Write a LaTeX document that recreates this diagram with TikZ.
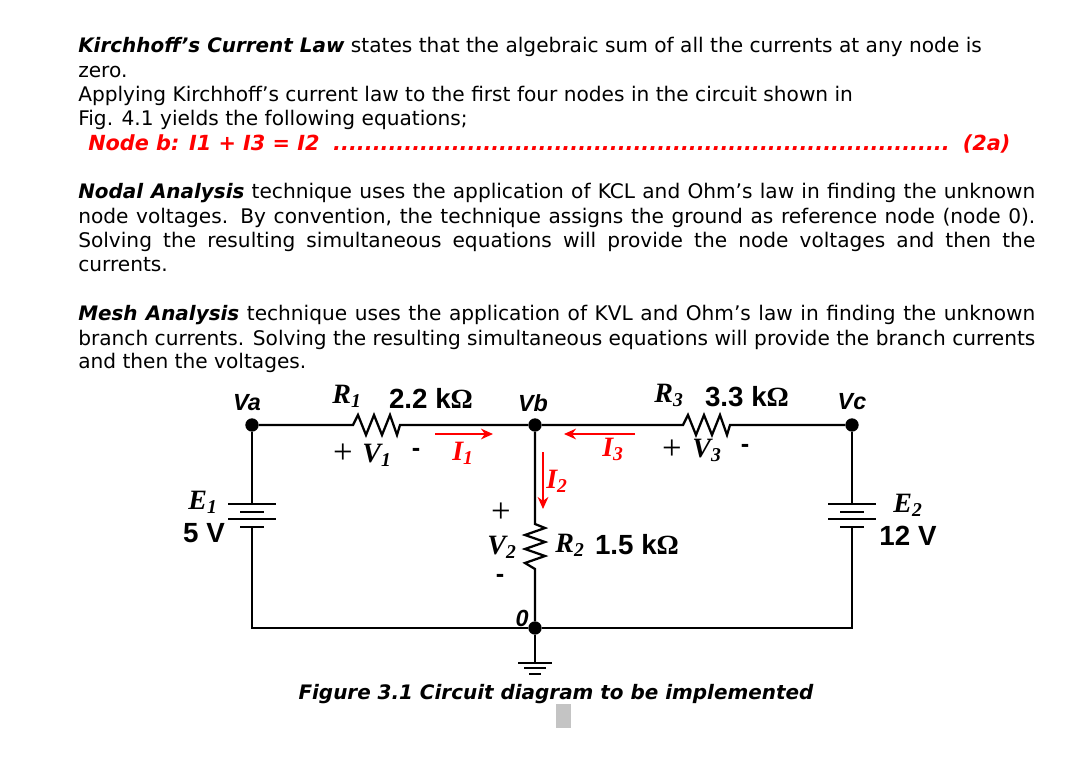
\documentclass[tikz,border=0pt]{standalone}
\usepackage{fontspec}
\setmainfont{DejaVu Sans}
\newfontfamily\arialfont{Liberation Sans}
\newfontfamily\timesfont{Liberation Serif}
\usetikzlibrary{arrows.meta}

\newcommand{\pagetext}{\fontsize{15.1pt}{18pt}\selectfont}
\newcommand{\fline}[1]{\makebox[717.75pt][s]{#1}}
\newcommand{\ital}[1]{{\fontsize{14.95pt}{18pt}\selectfont\textbf{\textit{#1}}}}
\newcommand{\symb}[2]{\textit{#1\textsubscript{#2}}}
\newcommand{\zigh}{-- ++(5,-10) -- ++(8,20) -- ++(8,-20) -- ++(8,20) -- ++(8,-20) -- ++(7,20) -- ++(3,-10)}
\newcommand{\zigv}{-- ++(10,4) -- ++(-20,7) -- ++(20,7) -- ++(-20,7) -- ++(20,7) -- ++(-20,7) -- ++(10,6)}

\tikzset{
  line/.style={anchor=base west,inner sep=0pt,font=\pagetext},
  wire/.style={line width=1.7pt},
  current/.style={red,line width=1.7pt,-{Stealth[length=9pt,width=8pt]}},
  junction/.style={circle,fill=black,inner sep=0pt,minimum size=10pt},
  volt/.style={inner sep=0pt,font=\arialfont\fontsize{17.5pt}{18pt}\bfseries\itshape},
  value/.style={inner sep=0pt,font=\arialfont\fontsize{20.8pt}{22pt}\bfseries},
  sym/.style={inner sep=0pt,font=\timesfont\fontsize{21pt}{22pt}\bfseries},
  symred/.style={sym,text=red},
  sign/.style={inner sep=0pt,font=\timesfont\fontsize{26pt}{28pt}\selectfont},
  minus/.style={inner sep=0pt,font=\arialfont\fontsize{19pt}{20pt}\bfseries},
  battery/.pic={
    \draw[wire] (-24,0) -- (24,0);
    \draw[wire] (-12,8) -- (12,8);
    \draw[wire] (-24,15) -- (24,15);
    \draw[wire] (-12,23) -- (12,23);
  },
  earth/.pic={
    \draw[wire] (-17,0) -- (17,0);
    \draw[wire] (-11,5) -- (11,5);
    \draw[wire] (-6,11) -- (6,11);
  }
}

\begin{document}
\begin{tikzpicture}[x=0.75pt,y=-0.75pt]
\useasboundingbox (0,0) rectangle (1077,764);

% TEXT
% current law
\node[line] (kcl1) at (78,52) {\ital{Kirchhoff’s Current Law} states that the algebraic sum of all the currents at any node is};
\node[line] (kcl2) at (78,77) {zero.};
\node[line] (kcl3) at (78,101) {Applying Kirchhoff’s current law to the first four nodes in the circuit shown in};
\node[line] (kcl4) at (78,125) {Fig. 4.1 yields the following equations;};
\node[line,text=red] (eqn) at (88,150) {\makebox[691.5pt][s]{\fontsize{15.6pt}{18pt}\selectfont\textbf{\textit{Node b: I1 + I3 = I2 \leaders\hbox{.}\hfill\ (2a)}}}};

% nodal analysis
\node[line] (nodal1) at (78,198) {\fline{\ital{Nodal Analysis} technique uses the application of KCL and Ohm’s law in finding the unknown}};
\node[line] (nodal2) at (78,223) {\fline{node voltages. By convention, the technique assigns the ground as reference node (node 0).}};
\node[line] (nodal3) at (78,247) {\fline{Solving the resulting simultaneous equations will provide the node voltages and then the}};
\node[line] (nodal4) at (78,271) {currents.};

% mesh analysis
\node[line] (mesh1) at (78,320) {\fline{\ital{Mesh Analysis} technique uses the application of KVL and Ohm’s law in finding the unknown}};
\node[line] (mesh2) at (78,345) {\fline{branch currents. Solving the resulting simultaneous equations will provide the branch currents}};
\node[line] (mesh3) at (78,368) {and then the voltages.};

% JUNCTIONS
\node[junction] (Va) at (252,425) {};
\node[junction] (Vb) at (535,425) {};
\node[junction] (Vc) at (852,425) {};
\node[junction] (zero) at (535,628) {};

\coordinate (R1in) at (353,425);
\coordinate (R3in) at (683,425);
\coordinate (R2in) at (535,524);
\coordinate (E1top) at (252,504);
\coordinate (E1bot) at (252,527);
\coordinate (E2top) at (852,504);
\coordinate (E2bot) at (852,527);
\coordinate (cornerA) at (252,628);
\coordinate (cornerC) at (852,628);
\coordinate (gnd) at (535,663);

% WIRES
\draw[wire] (Va) -- (R1in) \zigh -- (Vb);
\draw[wire] (Vb) -- (R3in) \zigh -- (Vc);
\draw[wire] (Vb) -- (R2in) \zigv -- (zero);
\draw[wire] (Va) -- (E1top);
\draw[wire] (E1bot) -- (cornerA) -- (zero);
\draw[wire] (Vc) -- (E2top);
\draw[wire] (E2bot) -- (cornerC) -- (zero);
\draw[wire] (zero) -- (gnd);
\pic at (E1top) {battery};
\pic at (E2top) {battery};
\pic at (gnd) {earth};

% CURRENTS
\coordinate (I1from) at (435,434);
\coordinate (I1to) at (493,434);
\coordinate (I3from) at (635,434);
\coordinate (I3to) at (564,434);
\coordinate (I2from) at (543,452);
\coordinate (I2to) at (543,509);
\draw[current] (I1from) -- (I1to);
\draw[current] (I3from) -- (I3to);
\draw[current] (I2from) -- (I2to);
\node[symred] (I1) at (463,453) {\symb{I}{1}};
\node[symred] (I2) at (557,481) {\symb{I}{2}};
\node[symred] (I3) at (613,449) {\symb{I}{3}};

% LABELS
\node[volt] (VaL) at (247,403) {Va};
\node[volt] (VbL) at (533,403) {Vb};
\node[volt] (VcL) at (852,402) {Vc};
\node[volt] (zeroL) at (522,618) {0};

\node[sym] (R1) at (347,396) {\symb{R}{1}};
\node[value] (R1v) at (431,398) {2.2 k{\timesfont\bfseries Ω}};
\node[sym] (R3) at (669,395) {\symb{R}{3}};
\node[value] (R3v) at (747,397) {3.3 k{\timesfont\bfseries Ω}};
\node[sym] (R2) at (570,545) {\symb{R}{2}};
\node[value] (R2v) at (637,545) {1.5 k{\timesfont\bfseries Ω}};
\node[sym] (E1) at (203,502) {\symb{E}{1}};
\node[value] (E1v) at (204,533) {5 V};
\node[sym] (E2) at (908,505) {\symb{E}{2}};
\node[value] (E2v) at (908,536) {12 V};

\node[sign] (V1p) at (343,454) {+};
\node[sym] (V1) at (377,455) {\symb{V}{1}};
\node[minus] (V1m) at (416,452) {-};
\node[sign] (V3p) at (672,450) {+};
\node[sym] (V3) at (707,450) {\symb{V}{3}};
\node[minus] (V3m) at (745,448) {-};
\node[sign] (V2p) at (501,513) {+};
\node[sym] (V2) at (502,547) {\symb{V}{2}};
\node[minus] (V2m) at (500,578) {-};

% CAPTION
\node[inner sep=0pt,font=\pagetext] (caption) at (556,694) {\ital{Figure 3.1 Circuit diagram to be implemented}};
\fill[black!23] (556,704) rectangle (571,728);

\end{tikzpicture}
\end{document}
